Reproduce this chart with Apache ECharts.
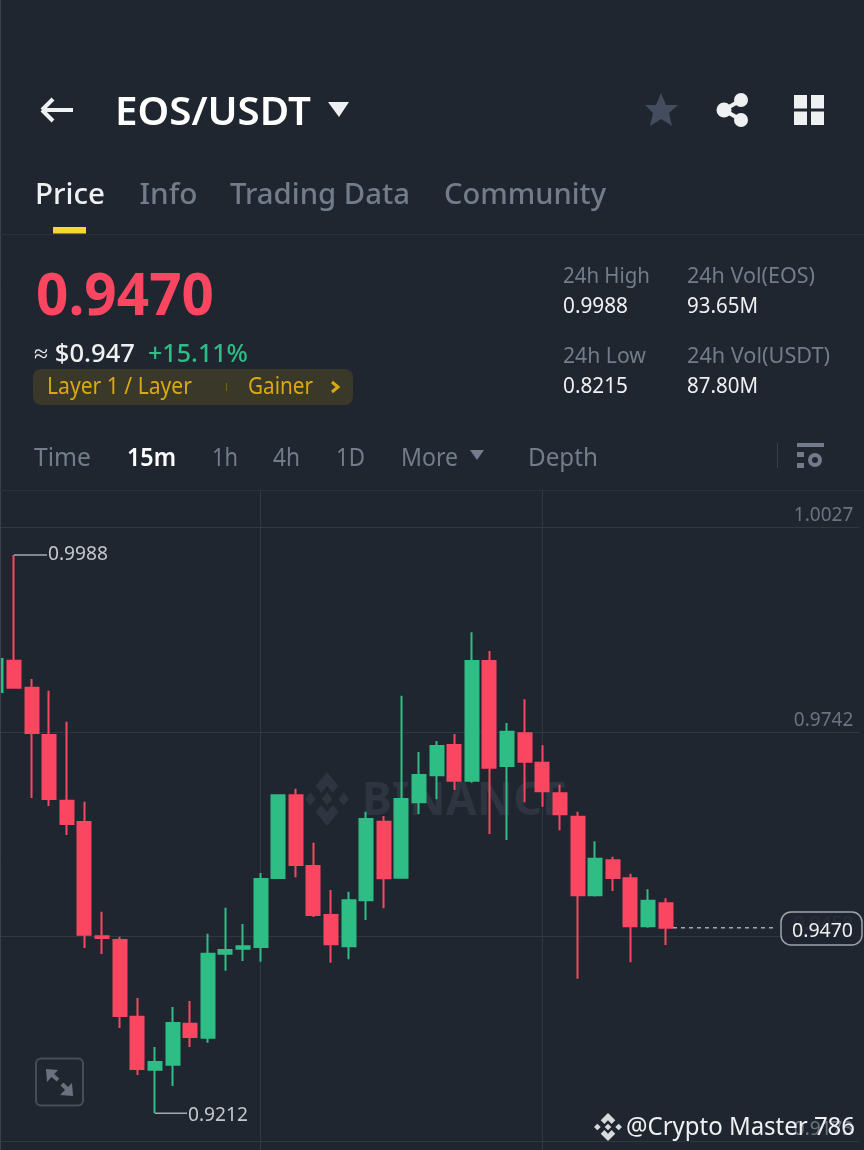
<!DOCTYPE html>
<html>
<head>
<meta charset="utf-8">
<title>EOS/USDT</title>
<script src="https://cdn.jsdelivr.net/npm/echarts@6/dist/echarts.min.js"></script>
<style>
html, body { margin: 0; padding: 0; background: #1f2630; }
#chart { width: 864px; height: 1150px; }
</style>
</head>
<body>
<div id="chart"></div>
<script>
// candles: [open, close, low, high]
var candles = [
    [0.97976, 0.98435, 0.97976, 0.98435],
    [0.98411, 0.98036, 0.98036, 0.99880],
    [0.98036, 0.97406, 0.96503, 0.98157],
    [0.97378, 0.96489, 0.96391, 0.97994],
    [0.96465, 0.96141, 0.95988, 0.97563],
    [0.96169, 0.94602, 0.94418, 0.96451],
    [0.94582, 0.94557, 0.94334, 0.94922],
    [0.94529, 0.93472, 0.93306, 0.94575],
    [0.93463, 0.92736, 0.92652, 0.93723],
    [0.92726, 0.92833, 0.92120, 0.93041],
    [0.92795, 0.93375, 0.92499, 0.93597],
    [0.93365, 0.93180, 0.93041, 0.93681],
    [0.93171, 0.94338, 0.93101, 0.94616],
    [0.94338, 0.94390, 0.94102, 0.94978],
    [0.94408, 0.94441, 0.94237, 0.94751],
    [0.94431, 0.95377, 0.94227, 0.95460],
    [0.95391, 0.96540, 0.95377, 0.96540],
    [0.96540, 0.95571, 0.95400, 0.96632],
    [0.95557, 0.94876, 0.94848, 0.95881],
    [0.94876, 0.94469, 0.94213, 0.95224],
    [0.94441, 0.95081, 0.94260, 0.95200],
    [0.95081, 0.96211, 0.94807, 0.96312],
    [0.96173, 0.95386, 0.94969, 0.96252],
    [0.95395, 0.96489, 0.95391, 0.97925],
    [0.96443, 0.96822, 0.96280, 0.97142],
    [0.96818, 0.97225, 0.96485, 0.97295],
    [0.97239, 0.96743, 0.96614, 0.97392],
    [0.96743, 0.98407, 0.96715, 0.98806],
    [0.98407, 0.96924, 0.96002, 0.98546],
    [0.96947, 0.97424, 0.95919, 0.97545],
    [0.97402, 0.97007, 0.96443, 0.97875],
    [0.96993, 0.96596, 0.96382, 0.97235],
    [0.96568, 0.96276, 0.96054, 0.96687],
    [0.96243, 0.95150, 0.93991, 0.96312],
    [0.95150, 0.95659, 0.95133, 0.95901],
    [0.95637, 0.95391, 0.95210, 0.95687],
    [0.95386, 0.94719, 0.94219, 0.95450],
    [0.94719, 0.95075, 0.94700, 0.95234],
    [0.95039, 0.94700, 0.94459, 0.95108]
];
var priceTicks = [1.0027, 0.9742, 0.9458, 0.9173];
var highIndex = 1, highPrice = 0.9988;
var lowIndex = 9, lowPrice = 0.9212;
var lastIndex = 38, lastPrice = 0.9470;

var tabs = ["Price", "Info", "Trading Data", "Community"];
var periods = ["Time", "15m", "1h", "4h", "1D", "More", "Depth"];

var slots = [];
for (var i = 0; i < 50; i++) {
    slots.push(String(i));
}

var GREEN = "#2ebd85", RED = "#fb4661", BG = "#1f2630";
var GREY = "#737c8a", WHITE = "#eef0f2", FONT = '"Noto Sans"';

var chart = echarts.init(document.getElementById("chart"), null, { renderer: "canvas" });

chart.setOption({
    animation: false,
    backgroundColor: BG,
    grid: { left: -3.6, top: 490, width: 862.9, height: 660, outerBoundsMode: "none" },
    xAxis: {
        type: "category",
        data: slots,
        boundaryGap: false,
        axisLine: { show: false },
        axisTick: { show: false },
        axisLabel: { show: false },
        splitLine: {
            show: true,
            interval: function (idx) { return idx === 15 || idx === 31; },
            lineStyle: { color: "#313743", width: 1 }
        }
    },
    yAxis: {
        type: "value",
        position: "right",
        min: 0.9161,
        max: 1.00784,
        axisLine: { show: false },
        axisTick: { show: false, customValues: priceTicks },
        axisLabel: {
            inside: true,
            customValues: priceTicks,
            margin: 6,
            verticalAlign: "bottom",
            padding: [0, 0, 2, 0],
            color: "#6b7380",
            fontFamily: FONT,
            fontSize: 19,
            formatter: function (v) { return v.toFixed(4); }
        },
        splitLine: { show: true, lineStyle: { color: "#313743", width: 1 } }
    },
    series: [{
        type: "candlestick",
        data: candles,
        barWidth: 13.5,
        clip: false,
        z: 3,
        itemStyle: {
            color: GREEN,
            color0: RED,
            borderColor: GREEN,
            borderColor0: RED,
            borderWidth: 2
        }
    }]
});

var measure = document.createElement("canvas").getContext("2d");

// text sits on a baseline; width squeezes it to the reference's run length
function label(str, x, base, size, color, width, weight, z) {
    var font = (weight || 400) + " " + size + "px " + FONT;
    measure.font = font;
    var sx = width ? width / measure.measureText(str).width : 1;
    return {
        type: "text", silent: true, z: z === undefined ? 10 : z,
        x: x, y: base - size * 0.30, scaleX: sx,
        style: { text: str, font: font, fill: color, verticalAlign: "middle", align: "left" }
    };
}
function poly(points, color, z) {
    return {
        type: "polygon", silent: true, z: z === undefined ? 10 : z,
        shape: { points: points }, style: { fill: color }
    };
}
function rect(x, y, w, h, color, r, stroke, lw) {
    return {
        type: "rect", silent: true, z: 10,
        shape: { x: x, y: y, width: w, height: h, r: r || 0 },
        style: { fill: color, stroke: stroke || null, lineWidth: lw || 0 }
    };
}
function line(x1, y1, x2, y2, color, w, dash) {
    return {
        type: "line", silent: true, z: 10,
        shape: { x1: x1, y1: y1, x2: x2, y2: y2 },
        style: { stroke: color, lineWidth: w, lineDash: dash || null }
    };
}
function circle(cx, cy, r, color, stroke, lw) {
    return {
        type: "circle", silent: true, z: 10,
        shape: { cx: cx, cy: cy, r: r },
        style: { fill: color, stroke: stroke || null, lineWidth: lw || 0 }
    };
}
// Binance mark, rx/ry are half width and half height
function logo(cx, cy, rx, ry, color, z) {
    var parts = [
        [[0, -1], [0.52, -0.48], [0.26, -0.22], [0, -0.48], [-0.26, -0.22], [-0.52, -0.48]],
        [[0, 1], [0.52, 0.48], [0.26, 0.22], [0, 0.48], [-0.26, 0.22], [-0.52, 0.48]],
        [[0, -0.24], [0.24, 0], [0, 0.24], [-0.24, 0]],
        [[-0.76, -0.24], [-0.52, 0], [-0.76, 0.24], [-1, 0]],
        [[0.76, -0.24], [1, 0], [0.76, 0.24], [0.52, 0]]
    ];
    return parts.map(function (p) {
        return poly(p.map(function (q) { return [cx + q[0] * rx, cy + q[1] * ry]; }), color, z);
    });
}

var hi = chart.convertToPixel({ seriesIndex: 0 }, [highIndex, highPrice]);
var lo = chart.convertToPixel({ seriesIndex: 0 }, [lowIndex, lowPrice]);
var last = chart.convertToPixel({ seriesIndex: 0 }, [lastIndex, lastPrice]);

var els = [];
els.push(line(0.5, 0, 0.5, 1150, "#3a404c", 1));

// header
els.push(line(42, 110, 73, 110, WHITE, 4));
els.push(line(53, 99, 42, 110, WHITE, 4));
els.push(line(53, 121, 42, 110, WHITE, 4));
els.push(label("EOS/USDT", 115, 126, 39, "#ffffff", 196, 600));
els.push(poly([[328, 102], [349, 102], [339, 117]], WHITE));
els.push(poly([[661, 93], [666, 105], [678, 105], [669, 113], [672, 126], [661, 119], [650, 126], [653, 113], [645, 105], [656, 105]], "#434d5e"));
els.push(line(724, 110, 741, 100, WHITE, 4));
els.push(line(724, 110, 741, 120, WHITE, 4));
els.push(circle(724, 110, 7.5, WHITE));
els.push(circle(741, 100, 7, WHITE));
els.push(circle(741, 120, 7, WHITE));
els.push(rect(794, 95, 13, 13.5, WHITE));
els.push(rect(811, 95, 13, 13.5, WHITE));
els.push(rect(794, 111.5, 13, 13.5, WHITE));
els.push(rect(811, 111.5, 13, 13.5, WHITE));

// tabs
els.push(label(tabs[0], 35, 204, 29, WHITE, 70, 500));
els.push(label(tabs[1], 139.5, 204, 29, GREY, 58, 500));
els.push(label(tabs[2], 230, 204, 29, GREY, 180, 500));
els.push(label(tabs[3], 444, 204, 29, GREY, 162, 500));
els.push(rect(53, 227, 33, 6.5, "#fcd535"));
els.push(line(0, 234.5, 864, 234.5, "#2b313c", 1));

// price block
els.push(label("0.9470", 36, 316, 60, RED, 178, 700));
els.push(label("\u2248 $0.947", 34, 362, 25, WHITE, 101, 500));
els.push(label("+15.11%", 148, 362, 25, GREEN, 100, 500));
els.push(rect(33, 369, 320, 36, "#3a3828", 8));
els.push(label("Layer 1 / Layer", 47, 394, 23, "#d9a90f", 145));
els.push(line(226.5, 383, 226.5, 391, "#6f6526", 1));
els.push(label("Gainer", 248, 394, 23, "#d9a90f", 65));
els.push({
    type: "polyline", silent: true, z: 10,
    shape: { points: [[332, 382], [338, 387], [332, 392]] },
    style: { fill: null, stroke: "#d9a90f", lineWidth: 3 }
});
els.push(label("24h High", 563, 283, 22, GREY, 87));
els.push(label("0.9988", 563, 313, 22, WHITE, 65));
els.push(label("24h Vol(EOS)", 687, 283, 22, GREY, 128));
els.push(label("93.65M", 687, 313, 22, WHITE, 71));
els.push(label("24h Low", 563, 363, 22, GREY, 83));
els.push(label("0.8215", 563, 393, 22, WHITE, 65));
els.push(label("24h Vol(USDT)", 687, 363, 22, GREY, 143));
els.push(label("87.80M", 687, 393, 22, WHITE, 71));

// period row
els.push(label(periods[0], 34, 466, 25, GREY, 57));
els.push(label(periods[1], 127, 466, 25, "#ffffff", 49, 600));
els.push(label(periods[2], 212, 466, 25, GREY, 26));
els.push(label(periods[3], 273, 466, 25, GREY, 27));
els.push(label(periods[4], 336, 466, 25, GREY, 29));
els.push(label(periods[5], 401, 466, 25, GREY, 57));
els.push(poly([[470, 450], [484, 450], [477, 460]], GREY));
els.push(label(periods[6], 528, 466, 25, GREY, 70));
els.push(line(777.5, 443, 777.5, 468, "#3a404c", 1));
els.push(rect(797, 443, 27, 4, GREY));
els.push(rect(797, 452, 7, 5, GREY));
els.push(rect(797, 463, 7, 5, GREY));
els.push(circle(815, 460, 5, null, GREY, 4));
els.push(line(0, 490.5, 864, 490.5, "#2b313c", 1));

// watermark behind the candles
els.push(label("BINANCE", 362, 816, 46, "#2f3540", 205, 700, 1));
logo(327, 799, 22, 27, "#2f3540", 1).forEach(function (e) { els.push(e); });

// high and low leaders
els.push(line(hi[0], hi[1], 47, hi[1], "#a4a9b0", 1.5));
els.push(label(highPrice.toFixed(4), 48, hi[1] + 5.3, 19, "#c4c8cd", 60));
els.push(line(lo[0], lo[1], 187, lo[1], "#a4a9b0", 1.5));
els.push(label(lowPrice.toFixed(4), 188, lo[1] + 8.3, 19, "#c4c8cd", 60));

// last price tag
els.push(line(673, last[1], 775, last[1], "#a4a9b0", 1.5, [4, 4]));
els.push(rect(781, 912, 81, 33, "rgba(31,38,48,0.88)", 10, "#a0a4ab", 1.5));
els.push(label(lastPrice.toFixed(4), 792, last[1] + 9.8, 20, WHITE, 61));

// expand button, two arrows with a gap between them
els.push(rect(36, 1058.5, 47, 47, null, 5, "#464d59", 2));
els.push(line(50, 1073, 58, 1080, "#6a7280", 4));
els.push(line(62, 1084, 69, 1091, "#6a7280", 4));
els.push(poly([[46, 1069], [58, 1070], [47, 1082]], "#6a7280"));
els.push(poly([[73, 1096], [60, 1095], [72, 1083]], "#6a7280"));

// author mark
logo(608, 1127, 14, 14, "#d8dadd").forEach(function (e) { els.push(e); });
els.push(label("@Crypto Master 786", 626, 1135, 25, "#eef0f2", 229));

chart.setOption({ graphic: { elements: els } });
</script>
</body>
</html>
